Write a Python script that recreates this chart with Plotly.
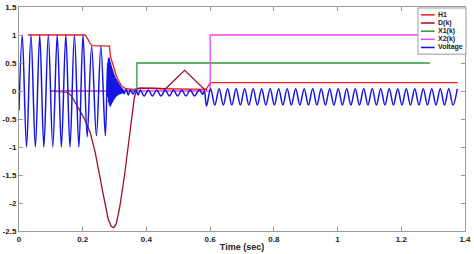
import plotly.graph_objects as go

# ---------------- data ----------------
x_ticks = [0, 0.2, 0.4, 0.6, 0.8, 1.0, 1.2, 1.4]
x_tick_labels = ["0", "0.2", "0.4", "0.6", "0.8", "1", "1.2", "1.4"]
y_ticks = [1.5, 1, 0.5, 0, -0.5, -1, -1.5, -2, -2.5]
y_tick_labels = ["1.5", "1", "0.5", "0", "-0.5", "-1", "-1.5", "-2", "-2.5"]

series_names = ["H1", "D(k)", "X1(k)", "X2(k)", "Voltage"]

h1_time = [0.028, 0.208, 0.215, 0.222, 0.23, 0.284, 0.287, 0.29, 0.295, 0.3, 0.3055,
           0.311, 0.316, 0.321, 0.326, 0.336, 0.36, 0.38, 0.45, 0.55, 0.588, 0.593,
           0.598, 0.605, 1.378]
h1_value = [1.0, 1.0, 0.94, 0.86, 0.81, 0.8, 0.62, 0.56, 0.46, 0.4, 0.27,
            0.2, 0.14, 0.1, 0.07, 0.04, 0.03, 0.05, 0.04, 0.03, 0.03, 0.08,
            0.13, 0.15, 0.15]

d_time = [0.1, 0.14, 0.152, 0.165, 0.177, 0.19, 0.203, 0.2235, 0.239, 0.2646, 0.28,
          0.29, 0.2975, 0.3055, 0.316, 0.3314, 0.3468, 0.354, 0.362, 0.37, 0.378,
          0.42, 0.46, 0.52, 0.58, 0.59]
d_value = [0.0, -0.01, -0.02, -0.09, -0.21, -0.33, -0.47, -0.74, -1.09, -1.85, -2.29,
           -2.42, -2.44, -2.37, -2.08, -1.5, -0.8, -0.45, -0.12, 0.03, 0.05,
           0.05, 0.04, 0.37, 0.04, 0.02]

x1_time = [0.1, 0.37, 0.37, 1.29]
x1_value = [0.0, 0.0, 0.5, 0.5]

x2_time = [0.1, 0.6, 0.6, 1.35]
x2_value = [0.0, 0.0, 1.0, 1.0]

voltage_time = [
    # full-amplitude section
    0.0, 0.0102, 0.0237, 0.0375, 0.0514, 0.065, 0.078, 0.092, 0.106, 0.12, 0.133,
    0.147, 0.16, 0.174, 0.188, 0.201, 0.214, 0.228, 0.243, 0.257, 0.271,
    # burst
    0.278, 0.2792, 0.2804, 0.2816, 0.2828, 0.284, 0.2852, 0.2864, 0.2876, 0.2888,
    0.29, 0.2912, 0.2924, 0.2936, 0.2948, 0.296, 0.2972, 0.2984, 0.2996, 0.3008,
    0.302, 0.3032, 0.3044, 0.3056, 0.3068, 0.308, 0.3092, 0.3104, 0.3116, 0.3128,
    0.314, 0.3152, 0.3164, 0.3176, 0.3188, 0.32, 0.3212, 0.3224, 0.3236, 0.3248, 0.326,
    # small ringing
    0.33, 0.336, 0.343, 0.35, 0.358, 0.366, 0.374, 0.381, 0.393, 0.406, 0.419, 0.432,
    0.446, 0.459, 0.472, 0.485, 0.498, 0.511, 0.524, 0.5375, 0.551, 0.566, 0.577,
    0.582, 0.5885,
    # steady section
    0.6015, 0.6147, 0.6282, 0.6414, 0.6549, 0.6681, 0.6816, 0.6948, 0.7083, 0.7215,
    0.735, 0.7482, 0.7617, 0.7749, 0.7884, 0.8016, 0.8151, 0.8283, 0.8418, 0.855,
    0.8685, 0.8817, 0.8952, 0.9084, 0.9219, 0.9351, 0.9486, 0.9618, 0.9753, 0.9885,
    1.002, 1.0152, 1.0287, 1.0419, 1.0554, 1.0686, 1.0821, 1.0953, 1.1088, 1.122,
    1.1355, 1.1487, 1.1622, 1.1754, 1.1889, 1.2021, 1.2156, 1.2288, 1.2423, 1.2555,
    1.269, 1.2822, 1.2957, 1.3089, 1.3224, 1.3356, 1.3491, 1.3623, 1.3758,
]
voltage_value = [
    -0.35, 1, -1, 1, -1, 1, -1, 1, -1, 1, -1,
    1, -1, 1, -1, 1, -0.82, 0.8, -0.8, 0.8, -0.8,
    0.5, -0.1, 0.58, -0.2, 0.6, -0.25, 0.55, -0.28, 0.5, -0.25,
    0.45, -0.22, 0.4, -0.2, 0.36, -0.17, 0.32, -0.15, 0.28, -0.13,
    0.25, -0.11, 0.22, -0.09, 0.2, -0.08, 0.17, -0.07, 0.15, -0.06,
    0.12, -0.05, 0.1, -0.05, 0.08, -0.04, 0.06, -0.04, 0.04, -0.03, 0.03,
    -0.05, 0.03, -0.07, 0.02, -0.06, 0.02, -0.07, 0.02, -0.09, 0.02, -0.09, 0.02,
    -0.09, 0.02, -0.09, 0.02, -0.09, 0.02, -0.09, 0.02, -0.09, 0.02, -0.06,
    0.0, -0.27,
    0.04, -0.25, 0.04, -0.25, 0.04, -0.25, 0.04, -0.25, 0.04, -0.25,
    0.04, -0.25, 0.04, -0.25, 0.04, -0.25, 0.04, -0.25, 0.04, -0.25,
    0.04, -0.25, 0.04, -0.25, 0.04, -0.25, 0.04, -0.25, 0.04, -0.25,
    0.04, -0.25, 0.04, -0.25, 0.04, -0.25, 0.04, -0.25, 0.04, -0.25,
    0.04, -0.25, 0.04, -0.25, 0.04, -0.25, 0.04, -0.25, 0.04, -0.25,
    0.04, -0.25, 0.04, -0.25, 0.04, -0.25, 0.04, -0.25, 0.04,
]

# ---------------- styling ----------------
colors = ["#ee1c24", "#9e1024", "#2e9a3a", "#ee44ee", "#1515e6"]
widths = [1.3, 1.3, 1.3, 1.3, 1.5]
FONT = "Liberation Sans, Arial, sans-serif"
AXIS_COLOR = "#9a9a9a"

fig = go.Figure()
data_sets = [(h1_time, h1_value, "linear"), (d_time, d_value, "linear"),
             (x1_time, x1_value, "linear"), (x2_time, x2_value, "linear"),
             (voltage_time, voltage_value, "spline")]
for (t, v, shape), name, c, w in zip(data_sets, series_names, colors, widths):
    fig.add_trace(go.Scatter(x=t, y=v, mode="lines", name=name,
                             line=dict(color=c, width=w, shape=shape),
                             hoverinfo="skip"))

W, H = 474, 254
ML, MR, MT, MB = 14, 5, 3, 23
fig.update_layout(
    width=W, height=H,
    margin=dict(l=ML, r=MR, t=MT, b=MB, pad=0),
    paper_bgcolor="white", plot_bgcolor="white",
    showlegend=False,
    font=dict(family=FONT, size=8, color="#222"),
)
axis_common = dict(showgrid=False, zeroline=False, showline=True, linecolor=AXIS_COLOR,
                   linewidth=1, mirror="ticks", ticks="inside", ticklen=4,
                   tickcolor=AXIS_COLOR, tickwidth=1, ticklabeloverflow="allow",
                   tickfont=dict(family=FONT, size=8, color="#222", weight="bold"))
fig.update_xaxes(range=[0, 1.4], tickvals=x_ticks, ticktext=x_tick_labels,
                 title=dict(text="Time (sec)", standoff=1,
                            font=dict(family=FONT, size=9, color="#222", weight="bold")),
                 **axis_common)
fig.update_yaxes(range=[-2.5, 1.5], tickvals=y_ticks, ticktext=y_tick_labels,
                 **axis_common)

# ---------------- compact legend (box, line samples, labels) ----------------
pw, ph = W - ML - MR, H - MT - MB
def px(x):
    return (x - ML) / pw
def py(y):
    return 1 - (y - MT) / ph

shapes = [dict(type="rect", xref="paper", yref="paper", x0=px(421), x1=px(470),
               y0=py(51), y1=py(4), line=dict(color=AXIS_COLOR, width=1),
               fillcolor="white", layer="above")]
annotations = []
row_y = [11, 19.3, 27.6, 35.9, 44.2]
for name, c, yy in zip(series_names, colors, row_y):
    shapes.append(dict(type="line", xref="paper", yref="paper", x0=px(424), x1=px(438),
                       y0=py(yy), y1=py(yy), line=dict(color=c, width=1.5), layer="above"))
    annotations.append(dict(xref="paper", yref="paper", x=px(439.5), y=py(yy),
                            text=name, showarrow=False, xanchor="left", yanchor="middle",
                            font=dict(family=FONT, size=7, color="#222", weight="bold")))
fig.update_layout(shapes=shapes, annotations=annotations)

fig.write_html("out.html")
